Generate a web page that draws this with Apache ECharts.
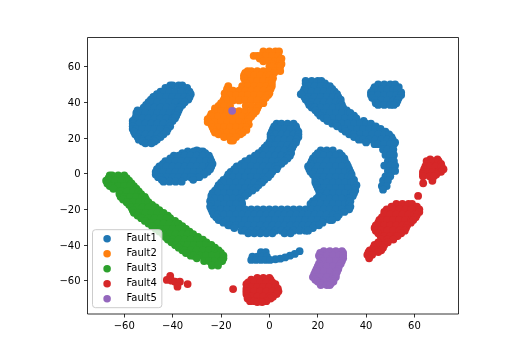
<!DOCTYPE html>
<html>
<head>
<meta charset="utf-8">
<style>
  html, body { margin: 0; padding: 0; background: #fff; }
  #chart { width: 518px; height: 361px; }
</style>
<script src="https://cdn.jsdelivr.net/npm/echarts@6/dist/echarts.min.js"></script>
</head>
<body>
<div id="chart"></div>
<script>
// t-SNE clusters, each row is [y, x1, x2, ...]
const blueUpperLeft = [
  [49.5, -41, -40, -37.5, -36],
  [48, -43, -34],
  [46, -45, -43.75, -41.25, -38.75, -36.25, -33.75, -33],
  [44.5, -46.5, -32.5],
  [43, -48, -47.5, -45, -42.5, -40, -37.5, -35, -33],
  [41.5, -49, -33.5],
  [40, -50, -48.75, -46.25, -43.75, -41.25, -38.75, -36.25, -35],
  [38.5, -51, -36],
  [37, -52, -50, -47.5, -45, -42.5, -40, -37.5, -37],
  [35.5, -54.5, -37.5],
  [34, -55, -53.75, -51.25, -48.75, -46.25, -43.75, -41.25, -38.75, -38],
  [32.5, -55, -38.5],
  [31, -55.5, -55, -52.5, -50, -47.5, -45, -42.5, -40, -39],
  [29.5, -56.5, -40],
  [28, -56.5, -56.25, -53.75, -51.25, -48.75, -46.25, -43.75, -41.25],
  [26.5, -56.5, -41],
  [25, -56.5, -55, -52.5, -50, -47.5, -45, -42.5, -42],
  [23.5, -56, -42.5],
  [22, -55.5, -53.75, -51.25, -48.75, -46.25, -43.75],
  [20.5, -54.5, -45],
  [19, -54, -52.5, -50, -47.5, -46.5],
  [18, -52.5, -47.5],
  [17, -51.25, -48.75]
];
const blueMidLeft = [
  [13, -30],
  [12.5, -33.75, -31.25, -28.75, -27.5],
  [11.5, -36, -26.5],
  [10, -39.5, -37.5, -35, -32.5, -30, -27.5, -25],
  [8.5, -41, -24.5],
  [7, -43, -41.25, -38.75, -36.25, -33.75, -31.25, -28.75, -26.25, -24],
  [5.5, -44, -23.5],
  [4, -45.5, -45, -42.5, -40, -37.5, -35, -32.5, -30, -27.5, -25, -24],
  [2.5, -46.5, -24.5],
  [1, -47, -46.25, -43.75, -41.25, -38.75, -36.25, -33.75, -31.25, -28.75, -26.25, -25.5],
  [-0.5, -47, -27],
  [-2, -46, -45, -42.5, -40, -37.5, -35, -32.5, -30, -29],
  [-3.5, -44.5, -31.5],
  [-4.5, -43.75, -41.25, -38.75, -36.25]
];
const blueBand = [
  [52, 15, 17.5, 20, 21.5],
  [50.5, 15, 23],
  [49, 15.5, 16.25, 18.75, 21.25, 23.75, 25],
  [47.5, 14.5, 26],
  [46, 14, 15, 17.5, 20, 22.5, 25, 27],
  [44.5, 13, 28],
  [43, 14.5, 16.25, 18.75, 21.25, 23.75, 26.25, 28.5],
  [41.5, 15, 29.5],
  [40, 16, 17.5, 20, 22.5, 25, 27.5, 29.5],
  [38.5, 16.5, 30],
  [37, 17.5, 18.75, 21.25, 23.75, 26.25, 28.75, 30.5],
  [35.5, 19, 32],
  [34, 20, 22.5, 25, 27.5, 30, 32.5, 33.5],
  [32.5, 21, 35],
  [31, 22.5, 23.75, 26.25, 28.75, 31.25, 33.75, 36],
  [29.5, 24, 39],
  [28, 26, 27.5, 30, 32.5, 35, 37.5, 40, 42],
  [26.5, 28, 44],
  [25, 30, 31.25, 33.75, 36.25, 38.75, 41.25, 43.75, 46],
  [23.5, 31.5, 48],
  [22, 33, 35, 37.5, 40, 42.5, 45, 47.5, 49.5],
  [20.5, 35, 50.5],
  [19, 37, 38.75, 41.25, 43.75, 46.25, 48.75, 51],
  [17.5, 40, 52],
  [16.5, 43.5, 45, 47.5, 50, 51.5],
  [13.5, 47, 48.75, 51.25],
  [10.5, 48, 50, 51.5],
  [7, 49, 50.75, 51.5],
  [4.5, 47.5, 50, 52],
  [1.5, 49, 51, 52],
  [-1.5, 48, 50],
  [-4, 47, 49],
  [-7, 46.5, 48.5],
  [-9, 47]
];
const blueRightBlob = [
  [50, 45, 47.5, 50, 52],
  [48.5, 43.5, 53.5],
  [47, 43, 43.75, 46.25, 48.75, 51.25, 53],
  [45.5, 42, 54.5],
  [44, 42, 42.5, 45, 47.5, 50, 52.5, 54.5],
  [42.5, 42.5, 53.5],
  [41, 43.75, 46.25, 48.75, 51.25, 53],
  [39.5, 44, 52.5],
  [38.5, 45, 47.5, 50, 51.5]
];
const blueArc = [
  [28, 3, 5, 7.5, 10],
  [26.5, 2, 11],
  [25, 1.5, 3.75, 6.25, 8.75, 11.25],
  [23.5, 1, 12],
  [22, 0.5, 2.5, 5, 7.5, 10, 12],
  [20.5, 0.5, 12],
  [19, 0.5, 1.25, 3.75, 6.25, 8.75, 11.25],
  [17.5, 0, 11],
  [16, -1, 0, 2.5, 5, 7.5, 10],
  [14.5, -2, 9.5],
  [13, -3, -1.25, 1.25, 3.75, 6.25, 8.75, 21.25, 23.75, 26.25],
  [11.5, -4.5, 9, 20, 29],
  [10, -6, -5, -2.5, 0, 2.5, 5, 7.5, 8.5, 19, 20, 22.5, 25, 27.5, 30],
  [8.5, -8, 7.5, 18, 31],
  [7, -10, -8.75, -6.25, -3.75, -1.25, 1.25, 3.75, 6.25, 17.5, 18.75, 21.25, 23.75, 26.25, 28.75, 31.25],
  [5.5, -11.5, 5, 17, 32],
  [4, -13.5, -12.5, -10, -7.5, -5, -2.5, 0, 2.5, 3.5, 16, 17.5, 20, 22.5, 25, 27.5, 30, 32.5],
  [2.5, -14.5, 3, 16.5, 33],
  [1, -16, -13.75, -11.25, -8.75, -6.25, -3.75, -1.25, 1.25, 17, 18.75, 21.25, 23.75, 26.25, 28.75, 31.25, 33.5],
  [-0.5, -17, 0.5, 18, 34],
  [-2, -17.5, -15, -12.5, -10, -7.5, -5, -2.5, -0.5, 19, 20, 22.5, 25, 27.5, 30, 32.5, 34],
  [-3.5, -19, -2, 19, 35],
  [-5, -20, -18.75, -16.25, -13.75, -11.25, -8.75, -6.25, -3.75, -3, 19, 21.25, 23.75, 26.25, 28.75, 31.25, 33.75, 35],
  [-6.5, -21, -4.5, 19.5, 36],
  [-8, -21.5, -20, -17.5, -15, -12.5, -10, -7.5, -5.5, 20, 22.5, 25, 27.5, 30, 32.5, 35, 35.5],
  [-9.5, -22.5, -7, 20.5, 35.5],
  [-11, -23.5, -21.25, -18.75, -16.25, -13.75, -11.25, -8.75, 21.5, 23.75, 26.25, 28.75, 31.25, 33.75, 35],
  [-12.5, -24, -10, 20.5, 34.5],
  [-14, -24, -22.5, -20, -17.5, -15, -12.5, 19.5, 22.5, 25, 27.5, 30, 32.5, 33],
  [-15.5, -24.5, -11.5, 18, 33.5],
  [-17, -24, -23.75, -21.25, -18.75, -16.25, -13.75, -11.25, 17, 18.75, 21.25, 23.75, 26.25, 28.75, 31.25, 33],
  [-18.5, -24.5, 33.5],
  [-20, -24, -22.5, -20, -17.5, -15, -12.5, -10, -7.5, -5, -2.5, 0, 2.5, 5, 7.5, 10, 12.5, 15, 17.5, 20, 22.5, 25, 27.5, 30, 32.5, 33],
  [-21.5, -23.5, 31],
  [-23, -23, -21.25, -18.75, -16.25, -13.75, -11.25, -8.75, -6.25, -3.75, -1.25, 1.25, 3.75, 6.25, 8.75, 11.25, 13.75, 16.25, 18.75, 21.25, 23.75, 26.25, 28.75],
  [-24.5, -22, 28],
  [-26, -21, -20, -17.5, -15, -12.5, -10, -7.5, -5, -2.5, 0, 2.5, 5, 7.5, 10, 12.5, 15, 17.5, 20, 22.5, 25, 26],
  [-27.5, -19, 22],
  [-29, -17, -16.25, -13.75, -11.25, -8.75, -6.25, -3.75, -1.25, 1.25, 3.75, 6.25, 8.75, 11.25, 13.75, 16.25, 18.75, 20.5],
  [-30.5, -14.5, 18],
  [-32, -11.5, -10, -7.5, -5, -2.5, 0, 2.5, 5, 7.5, 10, 12.5, 15, 16],
  [-33.5, -8.75, -6.25, -3.75, -1.25, 1.25, 6.25, 8.75]
];
const blueSmallArc = [
  [-44, -3.5, -1.5],
  [-43.5, 12.5],
  [-45, 10.5],
  [-46, 8.5],
  [-46.5, -7, -5, -3, -1],
  [-47, 6.5],
  [-47.7, 4.5],
  [-48, 2.5],
  [-48.4, -7.5, -5.5, -3.5, -1.5, 0.3]
];
const orangeCluster = [
  [68.5, -2.5, 0, 2.5, 4],
  [66, -6.5, -5, -3.75, -1.25, 1.25, 3.75],
  [64.5, -4, 5],
  [63, -2.5, 0, 2.5, 4.5],
  [61.5, 1, 5],
  [60, 0, 1.25, 3.75, 4.5],
  [57.5, -9, -7.5, -5, -2.5, 0, 2.5, 4.5],
  [56.5, -10, 2],
  [55, -10.5, -8.75, -6.25, -3.75, -1.25, 0],
  [53.5, -10.5, 1.5],
  [52, -10, -7.5, -5, -2.5, 0, 1],
  [50.5, -9.5, 1],
  [49, -17, -11.25, -8.75, -6.25, -3.75, -1.25, 1],
  [47.5, -17.5, 0.5],
  [46.5, -17.5, -15, -12.5, -10, -7.5, -5, -2.5, 0],
  [45, -18.5, 0],
  [44, -18, -16.25, -13.75, -11.25, -8.75, -6.25, -3.75, -1.25, -0.5],
  [42.5, -18.5, -1.5],
  [41, -19, -17.5, -15, -12.5, -10, -7.5, -5, -2.5],
  [39.5, -20, -2.5],
  [38, -21, -18.75, -16.25, -9.75, -7.25, -4.5],
  [36.5, -22.5, -5],
  [35, -22.5, -20, -17.5, -15, -12.5, -10, -7.5, -5.5],
  [33.5, -24, -6.5],
  [32, -24.5, -23.75, -21.25, -18.75, -16.25, -13.75, -11.25, -8.75, -7.5],
  [30.5, -25.5, -8.5],
  [29, -25.5, -25, -22.5, -20, -17.5, -15, -12.5, -10, -9],
  [27.5, -24, -8.5],
  [26, -23.5, -21.25, -18.75, -16.25, -13.75, -11.25, -9.5],
  [24.5, -23, -9.5],
  [23, -22.5, -20, -17.5, -15, -12.5, -11],
  [22, -21, -12],
  [20.5, -18.75, -16.25, -13.75],
  [18.5, -16, -15]
];
const greenCluster = [
  [-1, -66, -65, -62.5, -60],
  [-2.5, -66.5, -59],
  [-4, -67.5, -66.25, -63.75, -61.25, -58.75, -58],
  [-5.5, -67, -57],
  [-7, -66, -65, -62.5, -60, -57.5, -56],
  [-8.5, -64.5, -55],
  [-10, -62, -61.25, -58.75, -56.25, -54],
  [-11.5, -62, -53],
  [-13, -61.5, -60, -57.5, -55, -52.5, -51.5],
  [-14.5, -60.5, -51],
  [-16, -59, -58.75, -56.25, -53.75, -51.25, -50],
  [-17.5, -58, -48.5],
  [-19, -57, -55, -52.5, -50, -47.5, -47],
  [-20.5, -56.5, -45.5],
  [-22, -56, -53.75, -51.25, -48.75, -46.25, -43.75],
  [-23.5, -54.5, -42],
  [-25, -53, -52.5, -50, -47.5, -45, -42.5, -41],
  [-26.5, -51.5, -39],
  [-28, -50, -48.75, -46.25, -43.75, -41.25, -38.75, -37.5],
  [-29.5, -48.5, -36],
  [-31, -47, -45, -42.5, -40, -37.5, -35, -34.5],
  [-32.5, -45.5, -33],
  [-34, -44, -43.75, -41.25, -38.75, -36.25, -33.75, -31.5],
  [-35.5, -43, -29.5],
  [-37, -42, -40, -37.5, -35, -32.5, -30, -27.5],
  [-38.5, -40.5, -26],
  [-40, -39, -38.75, -36.25, -33.75, -31.25, -28.75, -26.25, -24],
  [-41.5, -37.5, -22.5],
  [-43, -36, -35, -32.5, -30, -27.5, -25, -22.5, -21],
  [-44.5, -34.5, -20],
  [-46, -32.5, -31.25, -28.75, -26.25, -23.75, -21.25, -19],
  [-47.5, -30, -19],
  [-49, -27, -25, -22.5, -20, -19.5],
  [-51.5, -23.75, -21.25]
];
const redBottom = [
  [-58.5, -5, -2.5, 0],
  [-59.5, -7.5, 0.5],
  [-61, -8.75, -6.25, -3.75, -1.25, 1.25],
  [-62, -9.5, 2.5],
  [-63.5, -9, -7.5, -5, -2.5, 0, 2.5],
  [-64.5, -9.5, 3.5],
  [-66, -9.5, -8.75, -6.25, -3.75, -1.25, 1.25, 3.75],
  [-67.5, -9.5, 3],
  [-69, -9, -7.5, -5, -2.5, 0, 1.5],
  [-70, -9, 0.5],
  [-71.5, -8, -6.25, -3.75, -1.25],
  [-72, -5, -3]
];
const redStray = [
  [-64.7, -15],
  [-57.4, -41],
  [-59.6, -42.4],
  [-60, -40.4],
  [-60.6, -39, -37],
  [-63.4, -38],
  [-61.9, -33.8],
  [-12.5, 61.5],
  [-5.4, 63.6],
  [-4, 67.4]
];
const redTopRight = [
  [8, 66.5, 69.5],
  [7, 65, 67.5, 70],
  [5.5, 65, 71],
  [4, 64.5, 66.25, 68.75, 71.25],
  [2.5, 64, 72],
  [1, 63.5, 65, 67.5, 70, 71],
  [-0.5, 63.5, 69],
  [-1.5, 63.5, 66.25, 68]
];
const redRight = [
  [-17, 52.5, 55, 57.5, 59],
  [-18.5, 50.5, 61],
  [-20, 48.5, 51.25, 53.75, 56.25, 58.75, 61.25, 62],
  [-21.5, 47.5, 62],
  [-23, 47.5, 50, 52.5, 55, 57.5, 60, 61],
  [-24.5, 46.5, 60.5],
  [-26, 45.5, 46.25, 48.75, 51.25, 53.75, 56.25, 58.75, 59.5],
  [-27.5, 45, 58.5],
  [-29, 44, 45, 47.5, 50, 52.5, 55, 57],
  [-30.5, 43.5, 56.5],
  [-32, 44, 46.25, 48.75, 51.25, 53.75, 56],
  [-33.5, 45, 54.5],
  [-35, 46, 47.5, 50, 52.5, 53],
  [-37, 46.25, 48.75, 51.25],
  [-38.5, 45, 49],
  [-40, 43.5, 45, 47.5],
  [-41.5, 43, 47],
  [-43, 41.5, 43.75, 46.25],
  [-44, 41, 45],
  [-45.5, 40.5, 42.5],
  [-47.5, 41.25]
];
const purpleCluster = [
  [35.2, -15.4],
  [-43.5, 22.5, 25, 27.5, 30],
  [-44.5, 21, 30.5],
  [-46, 20.5, 21.25, 23.75, 26.25, 28.75, 30.5],
  [-47.5, 21, 30.5],
  [-49, 21.5, 22.5, 25, 27.5, 30],
  [-50.5, 20.5, 29.5],
  [-52, 20, 21.25, 23.75, 26.25, 28.75],
  [-53.5, 19.5, 28.5],
  [-55, 19, 20, 22.5, 25, 27.5, 28],
  [-56.5, 18.5, 27.5],
  [-58, 18, 18.75, 21.25, 23.75, 26.25, 27.5],
  [-59.5, 19, 26.5],
  [-60.5, 20, 22.5, 25, 26.5],
  [-61.5, 21, 25.5],
  [-62.5, 21.25, 23.75, 25]
];

const xTicks = [-60, -40, -20, 0, 20, 40, 60];
const yTicks = [-60, -40, -20, 0, 20, 40, 60];

// 把行数据展开成 [x, y]
const toPoints = (...groups) =>
  groups.flat().flatMap(([y, ...xs]) => xs.map(x => [x, y]));

const makeSeries = (name, color, data) => ({
  name,
  type: 'scatter',
  data,
  symbol: 'circle',
  symbolSize: 7.8,
  silent: true,
  itemStyle: { color, opacity: 1 },
});

const axisCommon = {
  type: 'value',
  splitLine: { show: false },
  axisLine: { show: false, onZero: false },
};
const tickStyle = { length: 3.5, lineStyle: { color: '#000', width: 0.8 } };
const labelStyle = {
  color: '#000',
  fontFamily: 'DejaVu Sans',
  fontSize: 10,
  formatter: v => String(v).replace('-', '\u2212'),
};

const myChart = echarts.init(document.getElementById('chart'));
myChart.setOption({
  animation: false,
  backgroundColor: '#fff',
  grid: {
    left: 87.5,
    right: 59.5,
    top: 37.5,
    bottom: 47,
    show: true,
    borderColor: '#000',
    borderWidth: 0.8,
    backgroundColor: 'transparent',
  },
  xAxis: {
    ...axisCommon,
    min: -75.2,
    max: 78.2,
    axisTick: { ...tickStyle, customValues: xTicks },
    axisLabel: { ...labelStyle, customValues: xTicks, margin: 7 },
  },
  yAxis: {
    ...axisCommon,
    min: -78.7,
    max: 76.3,
    axisTick: { ...tickStyle, customValues: yTicks },
    axisLabel: { ...labelStyle, customValues: yTicks, margin: 7, verticalAlign: 'top', lineHeight: 2 },
  },
  legend: {
    orient: 'vertical',
    left: 92.5,
    top: 229.7,
    padding: [4, 5, 4, 10.85],
    itemWidth: 7.5,
    itemHeight: 7.5,
    itemGap: 5,
    icon: 'circle',
    selectedMode: false,
    backgroundColor: 'rgba(255,255,255,0.8)',
    borderColor: '#ccc',
    borderWidth: 1,
    borderRadius: 3,
    textStyle: {
      color: '#000',
      fontFamily: 'DejaVu Sans',
      fontSize: 10,
      padding: [0, 0, 0, 10.65],
    },
  },
  series: [
    makeSeries('Fault1', '#1f77b4', toPoints(blueUpperLeft, blueMidLeft, blueBand, blueRightBlob, blueArc, blueSmallArc)),
    makeSeries('Fault2', '#ff7f0e', toPoints(orangeCluster)),
    makeSeries('Fault3', '#2ca02c', toPoints(greenCluster)),
    makeSeries('Fault4', '#d62728', toPoints(redBottom, redStray, redTopRight, redRight)),
    makeSeries('Fault5', '#9467bd', toPoints(purpleCluster)),
  ],
});
</script>
</body>
</html>
